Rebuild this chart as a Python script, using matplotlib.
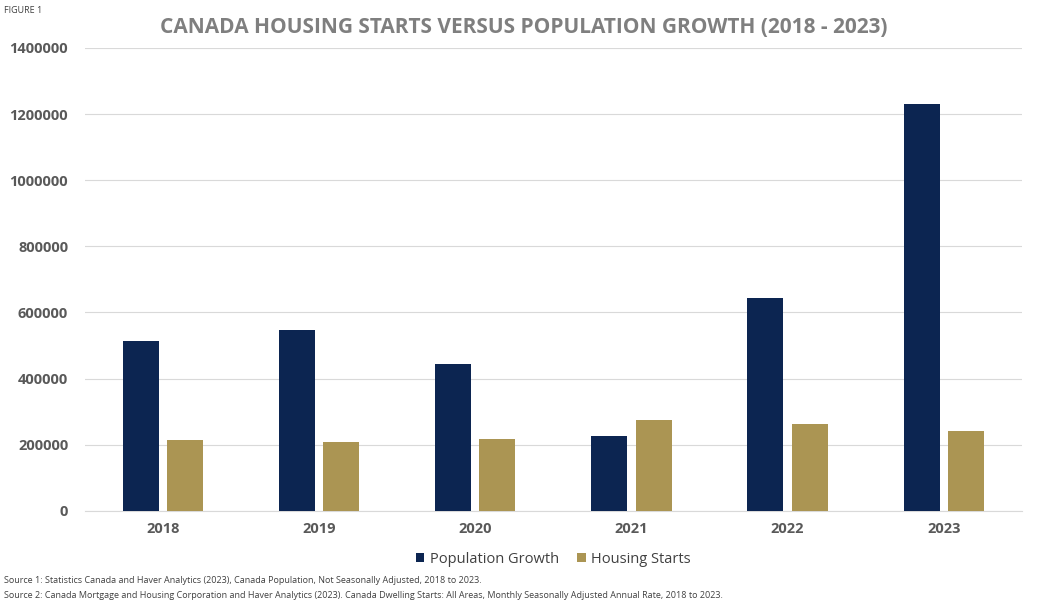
import matplotlib
matplotlib.use("Agg")
import matplotlib.pyplot as plt
import numpy as np

years = ["2018", "2019", "2020", "2021", "2022", "2023"]
population_growth = [515000, 547000, 443000, 225000, 644000, 1230000]
housing_starts = [213000, 209000, 218000, 275000, 263000, 242000]

plt.rcParams['font.family'] = ['Open Sans', 'DejaVu Sans']
fig = plt.figure(figsize=(10.48, 6.06), dpi=100)
ax = fig.add_axes([0.081, 0.157, 0.894, 0.764])
x = np.arange(len(years))
w = 0.23
navy = "#0c2551"
gold = "#ab9553"
ax.bar(x - 0.142, population_growth, w, color=navy, label="Population Growth", zorder=3)
ax.bar(x + 0.142, housing_starts, w, color=gold, label="Housing Starts", zorder=3)
ax.set_xlim(-0.5, 5.5)
ax.set_ylim(0, 1400000)
ax.set_yticks(np.arange(0, 1400001, 200000))
ax.set_yticklabels([str(v) for v in range(0, 1400001, 200000)])
ax.set_xticks(x)
ax.set_xticklabels(years)
ax.grid(axis='y', color='#d9d9d9', linewidth=0.8, zorder=0)
for s in ['top', 'right', 'left']:
    ax.spines[s].set_visible(False)
ax.spines['bottom'].set_color('#d9d9d9')
ax.tick_params(length=0, colors='#595959', labelsize=10.5)
for t in ax.get_xticklabels() + ax.get_yticklabels():
    t.set_fontweight('bold')
ax.tick_params(axis='x', pad=8)
ax.tick_params(axis='y', pad=12)
fig.text(0.5, 0.955, "CANADA HOUSING STARTS VERSUS POPULATION GROWTH (2018 - 2023)",
         ha='center', va='center', fontsize=15, fontweight='bold', color='#7f7f7f')
fig.text(0.004, 0.983, "FIGURE 1", fontsize=6.5, color='#404040', va='center')
ax.legend(loc='upper center', bbox_to_anchor=(0.5, -0.06), ncol=2, frameon=False,
          fontsize=10.5, handlelength=0.6, handleheight=0.6, columnspacing=1.2,
          handletextpad=0.4, labelcolor='#404040')
fig.text(0.004, 0.042, "Source 1: Statistics Canada and Haver Analytics (2023), Canada Population, Not Seasonally Adjusted, 2018 to 2023.",
         fontsize=6.5, color='#404040', va='center')
fig.text(0.004, 0.018, "Source 2: Canada Mortgage and Housing Corporation and Haver Analytics (2023). Canada Dwelling Starts: All Areas, Monthly Seasonally Adjusted Annual Rate, 2018 to 2023.",
         fontsize=6.5, color='#404040', va='center')
fig.savefig("out.png", dpi=100)
